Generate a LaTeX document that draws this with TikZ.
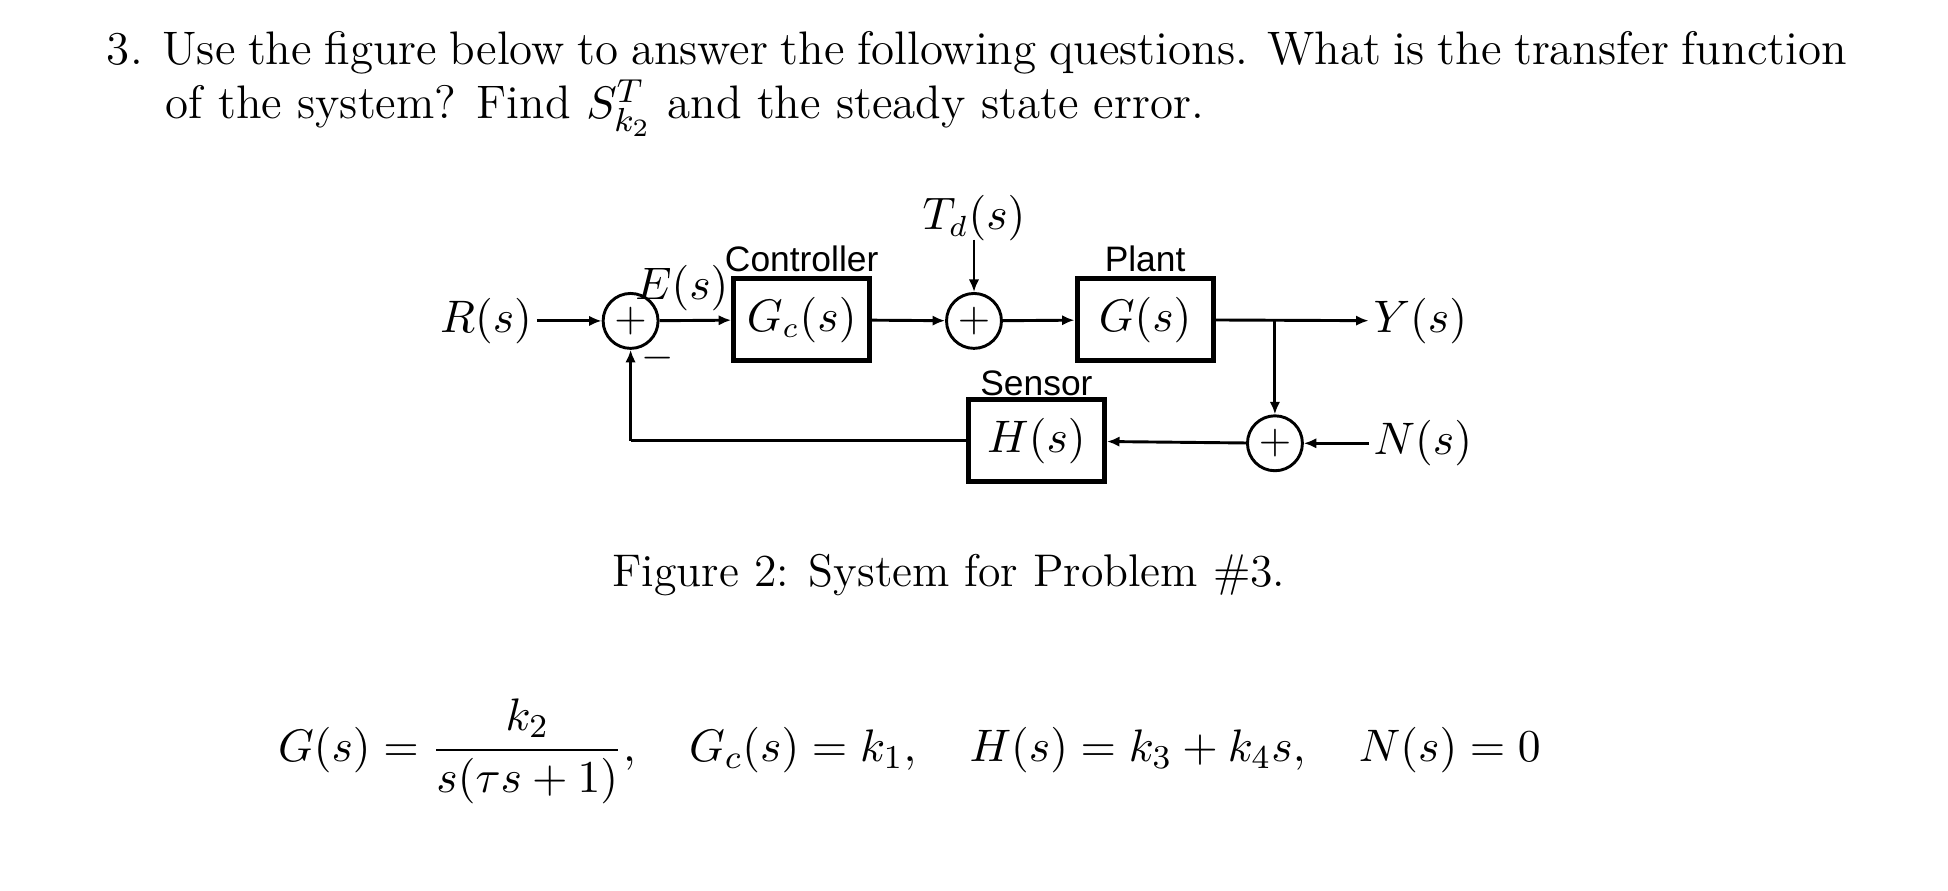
\documentclass[tikz,border=0pt]{standalone}
\usepackage{fontspec}
\newfontfamily\lblfont{Liberation Sans}
\usetikzlibrary{arrows.meta}
\begin{document}
\begin{tikzpicture}[x=0.3pt,y=-0.3pt,
  blk/.style={draw,line width=1.2pt,minimum width=32.7pt,minimum height=19.8pt,inner sep=0pt,font=\fontsize{10.5}{12}\selectfont},
  sumn/.style={draw,circle,line width=0.7pt,minimum size=13.2pt,inner sep=0pt},
  lbl/.style={font=\lblfont\fontsize{8.5}{10}\selectfont,inner sep=1pt},
  sig/.style={font=\fontsize{10.5}{12}\selectfont},
  conn/.style={line width=0.7pt,-{Latex[length=3pt,width=2.5pt]}},
  wire/.style={line width=0.7pt}]
\useasboundingbox (0,0) rectangle (1560,713);
\node[anchor=base west,inner sep=0,font=\fontsize{11.3}{14}\selectfont] (l1) at (85,52) {\makebox[418pt][s]{3. Use the figure below to answer the following questions. What is the transfer function}};
\node[anchor=base west,inner sep=0,font=\fontsize{11.3}{14}\selectfont] (l2) at (132,95) {of the system? Find $S^T_{k_2}$ and the steady state error.};
% diagram
\node[sumn] (s1) at (505,257) {$+$};
\node[sumn] (s2) at (780,257) {$+$};
\node[sumn] (s3) at (1021,355) {$+$};
\node[blk] (gc) at (642,256) {$G_c(s)$};
\node[blk] (g) at (917,256) {$G(s)$};
\node[blk] (h) at (830,353) {$H(s)$};
\node[lbl,anchor=south] (lc) at (642,222) {Controller};
\node[lbl,anchor=south] (lp) at (917,222) {Plant};
\node[lbl,anchor=south] (ls) at (830,321) {Sensor};
\node[sig,anchor=east,inner sep=1pt] (r) at (430,257) {$R(s)$};
\node[sig] (e) at (546,231) {$E(s)$};
\node[sig] (td) at (780,175) {$T_d(s)$};
\node[sig,anchor=west,inner sep=1pt] (y) at (1096,257) {$Y(s)$};
\node[sig,anchor=west,inner sep=1pt] (n) at (1096,355) {$N(s)$};
\node (minus) at (527,287) {$-$};
\coordinate (tdt) at (780,192);
\coordinate (br) at (1021,257);
\coordinate (fb) at (505,353);
\draw[conn] (r) -- (s1);
\draw[conn] (s1) -- (gc);
\draw[conn] (gc) -- (s2);
\draw[wire] (td.south) -- (tdt);
\draw[conn] (tdt) -- (s2);
\draw[conn] (s2) -- (g);
\draw[conn] (g) -- (y);
\draw[conn] (br) -- (s3);
\draw[conn] (n) -- (s3);
\draw[conn] (s3) -- (h);
\draw[wire] (h.west) -- (fb);
\draw[conn] (fb) -- (s1);
% caption
\node[anchor=base,font=\fontsize{11}{14}\selectfont] (cap) at (760,470) {Figure 2: System for Problem \#3.};
\node[anchor=base west,inner sep=0,font=\fontsize{11}{14}\selectfont] (eq) at (222,610) {$\displaystyle G(s)=\frac{k_2}{s(\tau s+1)},\quad G_c(s)=k_1,\quad H(s)=k_3+k_4s,\quad N(s)=0$};
\end{tikzpicture}
\end{document}
